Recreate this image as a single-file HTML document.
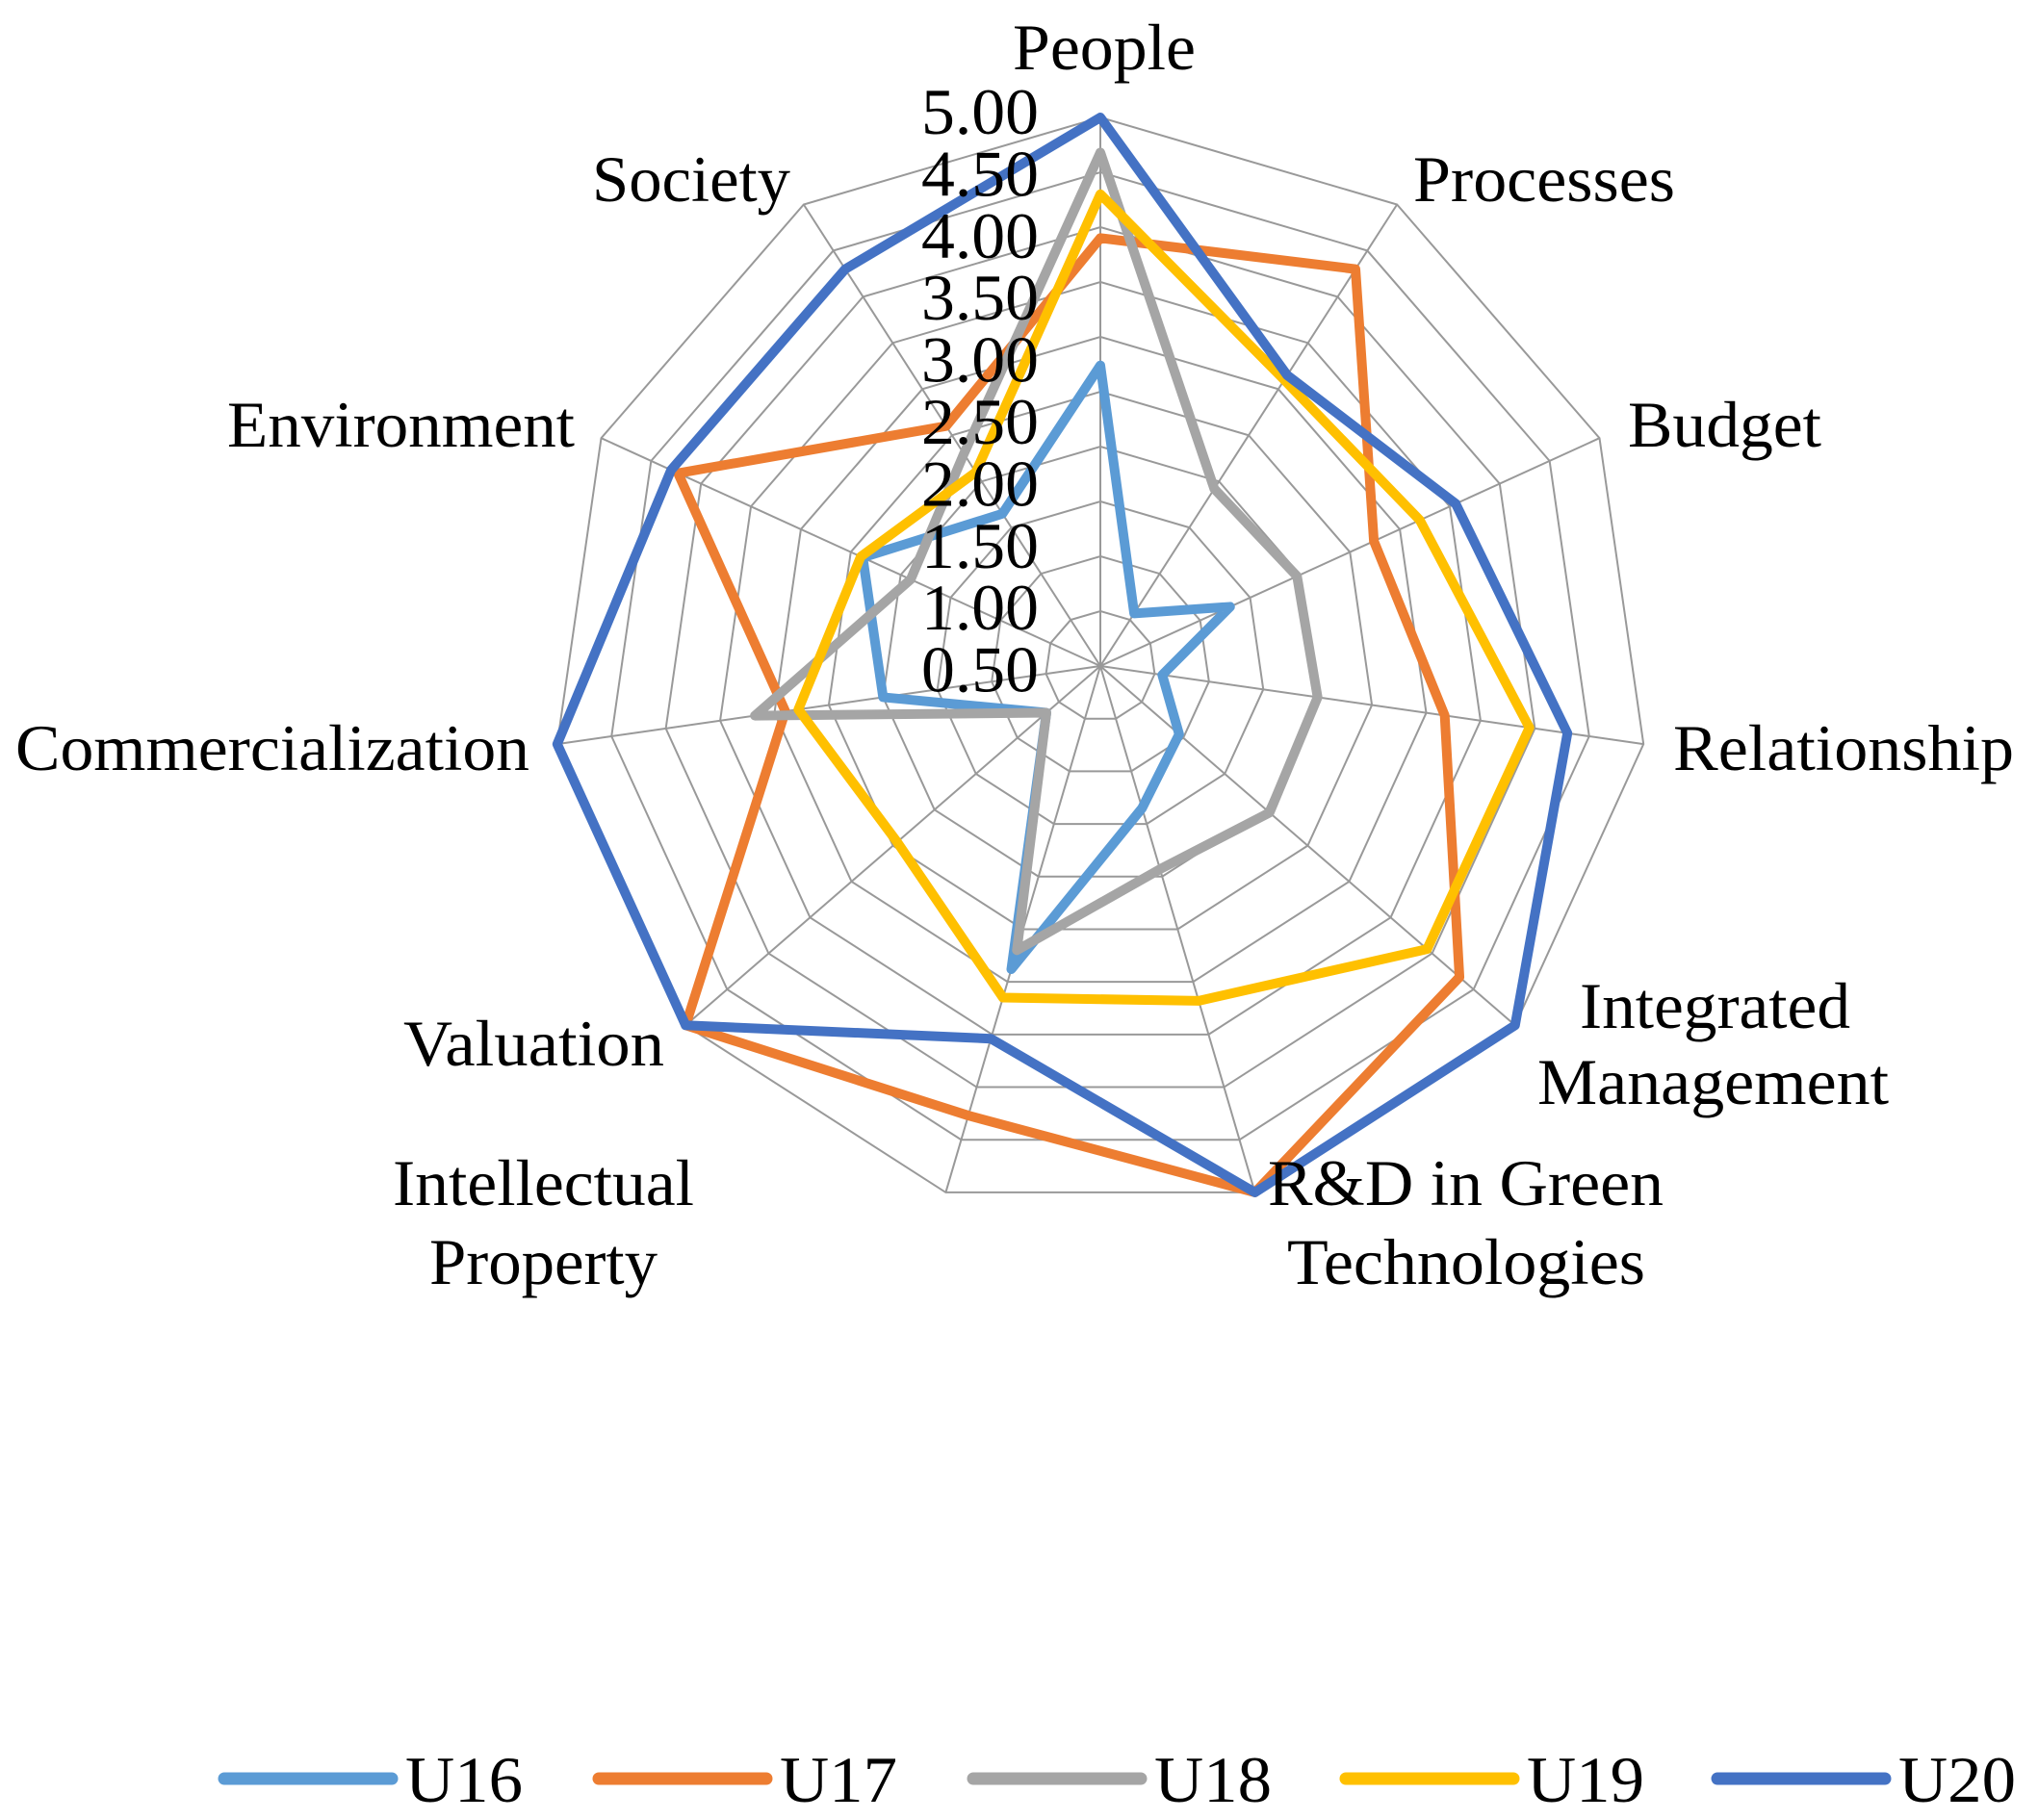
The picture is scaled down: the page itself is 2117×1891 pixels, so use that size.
<!DOCTYPE html>
<html><head><meta charset="utf-8"><style>
html,body{margin:0;padding:0;background:#fff;}
svg{display:block;}
text{font-family:"Liberation Serif",serif;fill:#000;}
</style></head><body>
<svg id="s" width="2117" height="1891" viewBox="0 0 2117 1891" xmlns="http://www.w3.org/2000/svg">
<g id="grid" stroke="#999" stroke-width="2" fill="none"></g>
<g id="series" fill="none" stroke-width="10" stroke-linejoin="round"></g>
<g font-size="68">
<text x="1052" y="72" textLength="190" lengthAdjust="spacingAndGlyphs">People</text>
<text x="1468" y="209" textLength="272" lengthAdjust="spacingAndGlyphs">Processes</text>
<text x="1691" y="464" textLength="201" lengthAdjust="spacingAndGlyphs">Budget</text>
<text x="1738" y="800" textLength="354" lengthAdjust="spacingAndGlyphs">Relationship</text>
<text x="1641" y="1068" textLength="281" lengthAdjust="spacingAndGlyphs">Integrated</text>
<text x="1597" y="1147" textLength="365" lengthAdjust="spacingAndGlyphs">Management</text>
<text x="1317" y="1252" textLength="411" lengthAdjust="spacingAndGlyphs">R&amp;D in Green</text>
<text x="1337" y="1334" textLength="372" lengthAdjust="spacingAndGlyphs">Technologies</text>
<text x="408" y="1252" textLength="313" lengthAdjust="spacingAndGlyphs">Intellectual</text>
<text x="446" y="1334" textLength="237" lengthAdjust="spacingAndGlyphs">Property</text>
<text x="419" y="1107" textLength="271" lengthAdjust="spacingAndGlyphs">Valuation</text>
<text x="16" y="800" textLength="534" lengthAdjust="spacingAndGlyphs">Commercialization</text>
<text x="236" y="464" textLength="361" lengthAdjust="spacingAndGlyphs">Environment</text>
<text x="615" y="209" textLength="206" lengthAdjust="spacingAndGlyphs">Society</text>
</g>
<g id="ticks" font-size="68"></g>
<g id="legend" font-size="68"></g>
</svg>
<script>
var cx=1143,cy=692,R=570,N=11,ns="http://www.w3.org/2000/svg";
function pt(i,v){var a=i*2*Math.PI/N;var r=v/5*R;return [cx+r*Math.sin(a),cy-r*Math.cos(a)];}
function el(t,at,p){var e=document.createElementNS(ns,t);for(var k in at)e.setAttribute(k,at[k]);p.appendChild(e);return e;}
var g=document.getElementById('grid');
for(var k=1;k<=10;k++){var ps=[];for(var i=0;i<N;i++){ps.push(pt(i,k*0.5).join(','));}el('polygon',{points:ps.join(' ')},g);}
for(var i=0;i<N;i++){var p=pt(i,5);el('line',{x1:cx,y1:cy,x2:p[0],y2:p[1]},g);}
var data=[
['#5B9BD5',[2.74,0.57,1.3,0.57,0.95,1.35,2.88,0.65,2.0,2.38,1.65]],
['#ED7D31',[3.9,4.3,2.74,3.17,4.33,5.0,4.27,5.0,2.9,4.23,2.6]],
['#A5A5A5',[4.68,1.92,1.97,2.0,2.04,1.93,2.7,0.65,3.18,1.9,2.3]],
['#FFC000',[4.3,3.1,3.2,3.95,3.94,3.18,3.15,2.45,2.78,2.4,2.1]],
['#4472C4',[5.0,3.15,3.56,4.3,5.0,5.0,3.54,5.0,5.0,4.3,4.3]]];
var s=document.getElementById('series');
data.forEach(function(d){var ps=d[1].map(function(v,i){return pt(i,v).join(',');});el('polygon',{points:ps.join(' '),stroke:d[0]},s);});
var t=document.getElementById('ticks');
for(var k=10;k>=1;k--){var y=139+(10-k)*64.4;var e=el('text',{x:1079,y:y,'text-anchor':'end',textLength:122,lengthAdjust:'spacingAndGlyphs'},t);e.textContent=(k*0.5).toFixed(2);}
var L=document.getElementById('legend');
var lx=[233,622,1011,1398,1784];var names=['U16','U17','U18','U19','U20'];
for(var i=0;i<5;i++){el('line',{x1:lx[i],y1:1848,x2:lx[i]+174,y2:1848,stroke:data[i][0],'stroke-width':13,'stroke-linecap':'round'},L);
var e=el('text',{x:lx[i]+188,y:1872,textLength:122,lengthAdjust:'spacingAndGlyphs'},L);e.textContent=names[i];}
</script>
</body></html>
